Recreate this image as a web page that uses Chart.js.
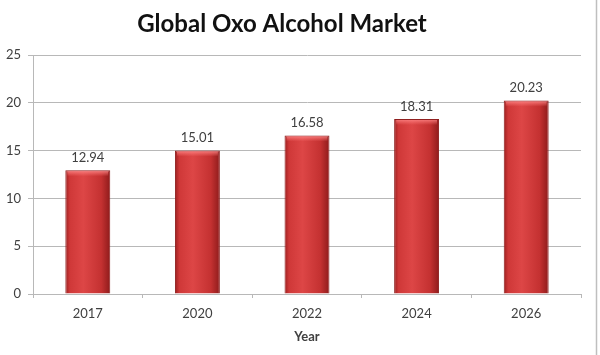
<!DOCTYPE html>
<html>
<head>
<meta charset="utf-8">
<script src="https://cdn.jsdelivr.net/npm/chart.js@4/dist/chart.umd.min.js"></script>
<style>
  html, body { margin: 0; padding: 0; background: #fff; }
  #wrap { width: 600px; height: 355px; }
</style>
</head>
<body>
<div id="wrap"><canvas id="oxoChart" width="600" height="355"></canvas></div>
<script>
(function() {
    // chart data
    var years = ['2017', '2020', '2022', '2024', '2026'];
    var marketSize = [12.94, 15.01, 16.58, 18.31, 20.23];
    var yTicks = [0, 5, 10, 15, 20, 25];

    var barPct = 0.41;
    var textColor = '#404040';
    var gridColor = '#b8b8b8';

    // Horizontal "cylinder" shading for each bar, from the x scale
    function barFill(ctx) {
        var chart = ctx.chart;
        var xs = chart.scales.x;
        if (!chart.chartArea || !xs || xs.width === undefined) { return '#c83232'; }
        var w = (xs.width / years.length) * barPct;
        var cx = xs.getPixelForValue(ctx.dataIndex);
        var x0 = cx - w / 2;
        var g = chart.ctx.createLinearGradient(x0, 0, x0 + w, 0);
        g.addColorStop(0, '#9c1f1f');
        g.addColorStop(0.1, '#cf3838');
        g.addColorStop(0.4, '#dd4646');
        g.addColorStop(0.8, '#c43131');
        g.addColorStop(1, '#8e1b1b');
        return g;
    }

    // Title, value labels, top bevel and outer border
    var extras = {
        id: 'extras',
        afterDatasetsDraw: function(chart) {
            var c = chart.ctx;
            var meta = chart.getDatasetMeta(0);
            c.save();
            meta.data.forEach(function(bar, i) {
                var x0 = bar.x - bar.width / 2;
                // light bevel on top of the bar
                var g = c.createLinearGradient(0, bar.y, 0, bar.y + 6);
                g.addColorStop(0, 'rgba(255,140,140,0.9)');
                g.addColorStop(1, 'rgba(255,120,120,0)');
                c.fillStyle = g;
                c.fillRect(x0 + 2, bar.y + 1, bar.width - 4, 6);

                c.fillStyle = textColor;
                c.font = '13px Lato';
                c.textAlign = 'center';
                c.textBaseline = 'bottom';
                c.fillText(marketSize[i].toFixed(2), bar.x, bar.y - 6);
            });
            c.restore();
        },
        afterDraw: function(chart) {
            var c = chart.ctx;
            c.save();
            c.fillStyle = '#111';
            c.font = 'bold 24px Lato';
            c.textAlign = 'center';
            c.textBaseline = 'middle';
            c.fillText('Global Oxo Alcohol Market', 282, 24);

            c.strokeStyle = '#bfbfbf';
            c.lineWidth = 1.5;
            c.beginPath();
            c.moveTo(596.5, 0);
            c.lineTo(596.5, 355);
            c.stroke();
            c.restore();
        }
    };

    var ctx = document.getElementById('oxoChart');
    var myChart = new Chart(ctx, {
        type: 'bar',
        data: {
            labels: years,
            datasets: [{
                data: marketSize,
                backgroundColor: barFill,
                borderColor: '#8c1c1c',
                borderWidth: 1,
                categoryPercentage: 1,
                barPercentage: barPct
            }]
        },
        options: {
            responsive: false,
            animation: false,
            layout: {
                padding: { top: 55, right: 19, left: 0, bottom: 0 }
            },
            plugins: {
                legend: { display: false },
                tooltip: { enabled: false },
                title: { display: false }
            },
            scales: {
                x: {
                    offset: true,
                    grid: {
                        offset: true,
                        drawOnChartArea: false,
                        drawTicks: true,
                        tickLength: 4,
                        color: gridColor
                    },
                    border: { color: gridColor },
                    ticks: {
                        color: textColor,
                        font: { family: 'Lato', size: 13 },
                        padding: 8
                    },
                    title: {
                        display: true,
                        text: 'Year',
                        color: textColor,
                        font: { family: 'Lato', size: 13, weight: 'bold' },
                        padding: { top: 0, bottom: 10 }
                    },
                    afterFit: function(s) { s.height = 61; }
                },
                y: {
                    min: 0,
                    max: 25,
                    afterBuildTicks: function(s) {
                        s.ticks = yTicks.map(function(v) { return { value: v }; });
                    },
                    grid: {
                        color: gridColor,
                        tickLength: 5
                    },
                    border: { color: gridColor },
                    ticks: {
                        color: textColor,
                        font: { family: 'Lato', size: 13 },
                        padding: 7
                    },
                    afterFit: function(s) { s.width = 33; }
                }
            }
        },
        plugins: [extras]
    });
})();
</script>
</body>
</html>
